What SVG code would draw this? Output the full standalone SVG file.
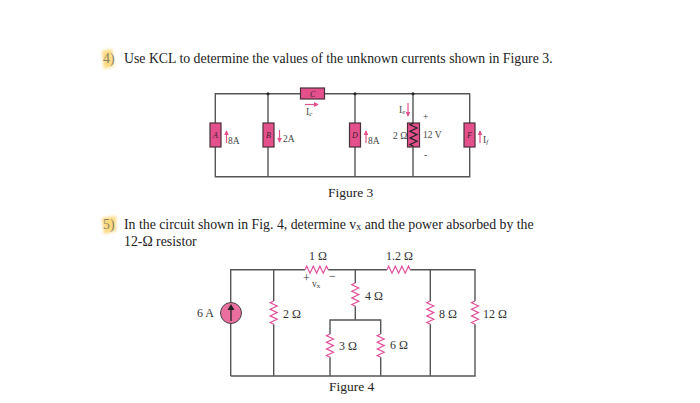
<svg xmlns="http://www.w3.org/2000/svg" width="700" height="403" viewBox="0 0 700 403">
<style>
text{font-family:"Liberation Serif",serif;fill:#222}
.q{font-size:13.8px}
.n{font-size:13.8px;fill:#8a8468}
.l{font-size:12px;fill:#333}
.s{font-size:9.5px;fill:#444}
.cap{font-size:13.5px}
.w{fill:none;stroke:#555;stroke-width:1.4}
.box{fill:#e4508c;stroke:#4a3038;stroke-width:1.2}
.r{fill:none;stroke:#e0509a;stroke-width:1.2}
.ar{fill:none;stroke:#e4508c;stroke-width:1.2}
.i{font-size:8px;font-style:italic;fill:#402030}
.hl{fill:#fbd060;opacity:.8}
.mask{fill:#fff}
</style>
<defs>
<filter id="soft" x="-40%" y="-40%" width="180%" height="180%"><feGaussianBlur stdDeviation="1.500"/></filter>
<marker id="ah" viewBox="0 0 6 6" refX="5" refY="3" markerWidth="4" markerHeight="4" orient="auto"><path d="M0 0L6 3L0 6z" fill="#e4508c"/></marker>
<path id="zv" d="M0 0l-3.5 1.7l7 3.3l-7 3.3l7 3.3l-7 3.3l7 3.3l-7 3.3l3.5 1.7"/>
<path id="zh" d="M0 0l1.7 -3.500l3.300 7l3.300 -7l3.300 7l3.300 -7l3.300 7l3.300 -7l1.700 3.500"/>
</defs>
<rect width="700" height="403" fill="#fff"/>
<g id="question-4">
<path class="hl" filter="url(#soft)" d="M102 51L112 49L114 66L104 69z"/>
<text class="n" x="103" y="63">4)</text>
<text class="q" x="124" y="63">Use KCL to determine the values of the unknown currents shown in Figure 3.</text>
</g>
<g id="question-5">
<path class="hl" filter="url(#soft)" d="M102 218L116 216L116 231L104 234z"/>
<text class="n" x="103" y="229">5)</text>
<text class="q" x="124" y="229">In the circuit shown in Fig. 4, determine v<tspan font-size="10" dy="1">x</tspan><tspan dy="-1"> and the power absorbed by the</tspan></text>
<text class="q" x="124" y="246">12-Ω resistor</text>
</g>
<g id="connectors">
<path class="w" d="M300 93.700H215.300V176.700H469.700V93.700H325M268 93.700V176.700M355 93.700V176.700M413 93.700V176.700"/>
<path class="w" d="M230.700 376V269.700H475V376H230.700M273.700 269.700V376M355.300 269.700V320M330 376V320H380.700V376M430.300 269.700V376"/>
<circle cx="268" cy="93.700" r="1.500" fill="#222"/><circle cx="355" cy="93.700" r="1.500" fill="#222"/><circle cx="413" cy="93.700" r="1.500" fill="#222"/>
</g>
<g id="A"><rect class="box" x="210" y="123" width="11" height="24"/><text class="i" x="213" y="138">A</text>
<path class="ar" d="M226.500 143V131" marker-end="url(#ah)"/><text class="s" x="228" y="144">8A</text></g>
<g id="B"><rect class="box" x="263" y="123" width="11" height="24"/><text class="i" x="266" y="138">B</text>
<path class="ar" d="M279.500 130V142" marker-end="url(#ah)"/><text class="s" x="283" y="142">2A</text></g>
<g id="C"><rect class="box" x="300.500" y="88" width="24" height="11"/><text class="i" x="310" y="96.500">C</text>
<path class="ar" d="M305 104.500H318" marker-end="url(#ah)"/><text class="s" x="306" y="115">I<tspan font-size="7" font-style="italic" dy="1">c</tspan></text></g>
<g id="D"><rect class="box" x="349.500" y="123" width="11" height="24"/><text class="i" x="352" y="138">D</text>
<path class="ar" d="M366 143V131" marker-end="url(#ah)"/><text class="s" x="368" y="144">8A</text></g>
<g id="E"><rect class="box" x="407.500" y="123" width="12" height="24"/>
<use href="#zv" x="413.500" y="123" fill="none" stroke="#222" stroke-width="1.200"/>
<text class="s" x="393" y="139">2 Ω</text><text class="s" x="423" y="138">12 V</text>
<text class="s" x="423" y="120">+</text><text class="s" x="424" y="158">-</text>
<text class="s" x="399" y="113">I<tspan font-size="7" font-style="italic" dy="1">e</tspan></text>
<path class="ar" d="M408 103V116" marker-end="url(#ah)"/></g>
<g id="F"><rect class="box" x="464" y="123" width="11" height="24"/><text class="i" x="467" y="138">F</text>
<path class="ar" d="M480 143V131" marker-end="url(#ah)"/><text class="s" x="483" y="143">I<tspan font-size="7" font-style="italic" dy="1">f</tspan></text></g>
<text id="fig3" class="cap" x="328" y="197">Figure 3</text>
<g id="src"><circle cx="231" cy="313" r="10.500" fill="#ea6f9f" stroke="#444" stroke-width="1"/>
<path d="M231 321V308" stroke="#222" stroke-width="1.300"/><path d="M227.500 310L231 304L234.500 310z" fill="#222"/>
<text class="l" x="197" y="317">6 A</text></g>
<g id="R1"><rect class="mask" x="305" y="266" width="23.200" height="8"/><use href="#zh" class="r" x="305" y="269.700"/>
<text class="l" x="309" y="260">1 Ω</text><text class="l" x="303" y="282">+</text><text class="l" x="329" y="280">−</text>
<text class="s" x="312" y="287">v<tspan font-size="7" dy="1">x</tspan></text></g>
<g id="R2"><rect class="mask" x="387" y="266" width="23.200" height="8"/><use href="#zh" class="r" x="387" y="269.700"/>
<text class="l" x="386" y="260">1.2 Ω</text></g>
<g id="R3"><rect class="mask" x="351" y="283" width="8" height="23.200"/><use href="#zv" class="r" x="355.300" y="283"/><text class="l" x="365" y="300">4 Ω</text></g>
<g id="R4"><rect class="mask" x="270" y="301" width="8" height="23.200"/><use href="#zv" class="r" x="273.700" y="301"/><text class="l" x="283" y="318">2 Ω</text></g>
<g id="R5"><rect class="mask" x="326" y="334" width="8" height="23.200"/><use href="#zv" class="r" x="330" y="334"/><text class="l" x="339" y="350">3 Ω</text></g>
<g id="R6"><rect class="mask" x="377" y="334" width="8" height="23.200"/><use href="#zv" class="r" x="380.700" y="334"/><text class="l" x="390" y="349">6 Ω</text></g>
<g id="R7"><rect class="mask" x="426" y="301" width="8" height="23.200"/><use href="#zv" class="r" x="430.300" y="301"/><text class="l" x="439" y="318">8 Ω</text></g>
<g id="R8"><rect class="mask" x="471" y="301" width="8" height="23.200"/><use href="#zv" class="r" x="475" y="301"/><text class="l" x="483" y="318">12 Ω</text></g>
<text id="fig4" class="cap" x="329" y="391">Figure 4</text>
</svg>
